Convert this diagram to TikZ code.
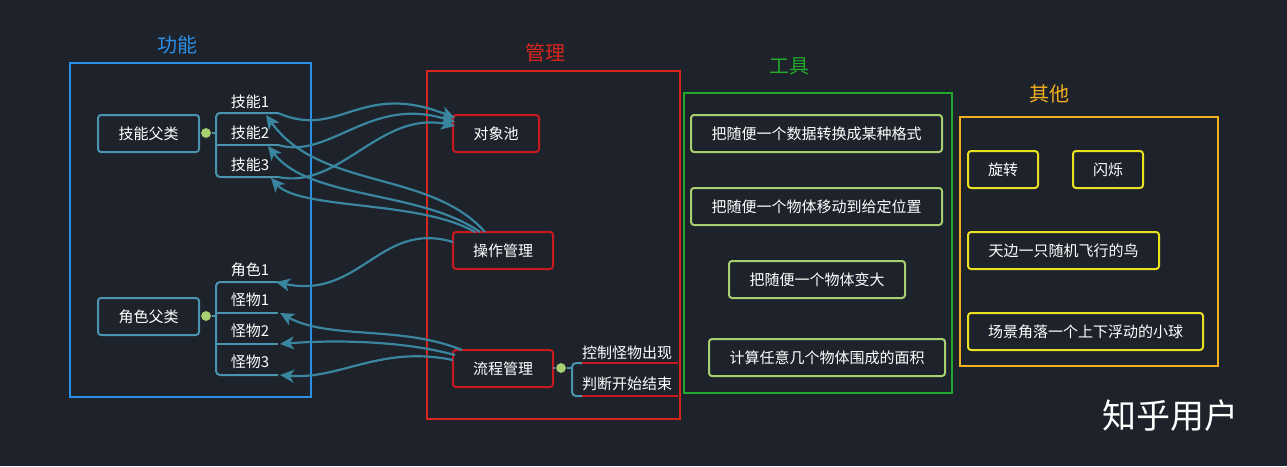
\documentclass[tikz,border=0pt]{standalone}
\usepackage{fontspec}
\setmainfont{Noto Sans CJK SC}
\usetikzlibrary{arrows.meta}
\definecolor{bg}{HTML}{1E222B}
\definecolor{teal}{HTML}{4A94B0}
\definecolor{lnk}{HTML}{3A85A0}
\definecolor{cblue}{HTML}{2A8FE8}
\definecolor{cred}{HTML}{D9261C}
\definecolor{cgreen}{HTML}{22A82A}
\definecolor{cyel}{HTML}{F2B01E}
\definecolor{ngreen}{HTML}{A8D070}
\definecolor{nyel}{HTML}{E8E020}
\definecolor{nred}{HTML}{C81820}
\tikzset{
 x=1pt,y=-1pt,
 every node/.style={text=white,font=\fontsize{15}{17}\selectfont},
 nbox/.style={draw,line width=2pt,rounded corners=3pt,minimum height=37pt,inner sep=0pt},
 group/.style={draw,line width=2.6pt},
 title/.style={font=\fontsize{20}{22}\selectfont},
 link/.style={draw=lnk,line width=2.2pt,-{Stealth[length=14pt,width=13pt,inset=4pt]}},
 knob/.style={circle,fill=ngreen,draw=bg,line width=0.8pt,inner sep=0pt,minimum size=11pt},
}
\begin{document}
\begin{tikzpicture}
\fill[bg] (0,0) rectangle (1287,466);
% groups
\draw[group,cblue] (70,63) rectangle (311,397);
\node[title,text=cblue] (t1) at (177,45) {功能};
\draw[group,cred] (427,71) rectangle (680,419);
\node[title,text=cred] (t2) at (545,53) {管理};
\draw[group,cgreen] (684,93) rectangle (952,393);
\node[title,text=cgreen] (t3) at (789,66) {工具};
\draw[group,cyel] (960,117) rectangle (1218,366);
\node[title,text=cyel] (t4) at (1049,94) {其他};
% left nodes
\node[nbox,draw=teal,minimum width=101pt] (jn) at (148.5,133.5) {技能父类};
\node[nbox,draw=teal,minimum width=101pt] (js) at (148.5,316.5) {角色父类};
\draw[teal,line width=2pt,rounded corners=4pt] (278,113)--(216,113)--(216,177)--(278,177);
\draw[teal,line width=2pt] (216,145)--(278,145) (199,133)--(216,133);
\draw[teal,line width=2pt,rounded corners=4pt] (278,282)--(216,282)--(216,375)--(278,375);
\draw[teal,line width=2pt] (216,313)--(278,313) (216,344)--(278,344) (199,316)--(216,316);
\node[knob] (k1) at (206,133) {};
\node[knob] (k2) at (206,316) {};
\node (s1) at (250,102) {技能1};
\node (s2) at (250,133) {技能2};
\node (s3) at (250,165) {技能3};
\node (r1) at (250,270) {角色1};
\node (m1) at (250,300) {怪物1};
\node (m2) at (250,331) {怪物2};
\node (m3) at (250,362) {怪物3};
\coordinate (s1e) at (278,113); \coordinate (s2e) at (278,145); \coordinate (s3e) at (278,177);
\coordinate (s1a) at (266,115); \coordinate (s2a) at (268,146); \coordinate (s3a) at (271,178);
\coordinate (r1e) at (276,282); \coordinate (m1e) at (280,313); \coordinate (m2e) at (280,344); \coordinate (m3e) at (280,375);
% mid nodes
\node[nbox,draw=nred,minimum width=86pt] (dx) at (496,133.5) {对象池};
\node[nbox,draw=nred,minimum width=100pt] (cz) at (503,250.5) {操作管理};
\node[nbox,draw=nred,minimum width=100pt] (lc) at (503,368.5) {流程管理};
\draw[teal,line width=2pt] (553,368)--(572,368);
\draw[teal,line width=2pt,rounded corners=4pt] (582,363)--(572,363)--(572,396)--(582,396);
\draw[nred,line width=2pt] (582,363)--(678,363) (582,396)--(678,396);
\node[knob] (k3) at (561,368) {};
\node (c1) at (627,353) {控制怪物出现};
\node (c2) at (627,384) {判断开始结束};
% tools
\node[nbox,draw=ngreen,minimum width=251pt] (g1) at (816.5,133.5) {把随便一个数据转换成某种格式};
\node[nbox,draw=ngreen,minimum width=251pt] (g2) at (816.5,206.5) {把随便一个物体移动到给定位置};
\node[nbox,draw=ngreen,minimum width=176pt] (g3) at (817,279.5) {把随便一个物体变大};
\node[nbox,draw=ngreen,minimum width=236pt] (g4) at (827,357.5) {计算任意几个物体围成的面积};
% other
\node[nbox,draw=nyel,minimum width=70pt] (y1) at (1003,169.5) {旋转};
\node[nbox,draw=nyel,minimum width=70pt] (y2) at (1108,169.5) {闪烁};
\node[nbox,draw=nyel,minimum width=191pt] (y3) at (1063.5,250.5) {天边一只随机飞行的鸟};
\node[nbox,draw=nyel,minimum width=235pt] (y4) at (1085.5,331.5) {场景角落一个上下浮动的小球};
\node[font=\fontsize{34}{38}\selectfont] (wm) at (1170,416) {知乎用户};
% links
\coordinate (d1) at (455,118); \coordinate (d2) at (455,122); \coordinate (d3) at (455,126);
\draw[link] (s1e) .. controls (340,140) and (360,80) .. (d1);
\draw[link] (s2e) .. controls (330,160) and (370,95) .. (d2);
\draw[link] (s3e) .. controls (340,190) and (380,110) .. (d3);
\coordinate (cza) at (485,232); \coordinate (czb) at (480,232); \coordinate (czc) at (475,232); \coordinate (czl) at (453,242);
\draw[link] (cza) .. controls (430,170) and (320,190) .. (s1a);
\draw[link] (czb) .. controls (420,190) and (310,200) .. (s2a);
\draw[link] (czc) .. controls (420,200) and (300,210) .. (s3a);
\draw[link] (czl) .. controls (380,220) and (360,300) .. (r1e);
\coordinate (la) at (462,350); \coordinate (lb) at (455,355); \coordinate (lc2) at (453,360);
\draw[link] (la) .. controls (400,325) and (330,340) .. (m1e);
\draw[link] (lb) .. controls (400,340) and (330,340) .. (m2e);
\draw[link] (lc2) .. controls (380,345) and (340,380) .. (m3e);
\end{tikzpicture}
\end{document}
